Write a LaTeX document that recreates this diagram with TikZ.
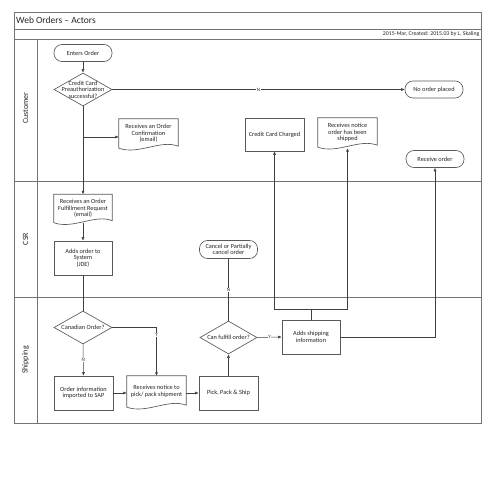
\documentclass[tikz,border=0pt]{standalone}
\usepackage{fontspec}
\setmainfont{Carlito}
\usetikzlibrary{shapes.geometric,arrows.meta,calc}
\newcommand\mydocshape[1]{%
  \draw[shp] (#1.south west) -- (#1.north west) -- (#1.north east) -- ([yshift=2pt]#1.south east)
    .. controls ([xshift=12pt,yshift=9pt]#1.south) and ([xshift=-10pt,yshift=-7pt]#1.south) .. (#1.south west) -- cycle;}
\begin{document}
\begin{tikzpicture}[x=1pt,y=-1pt,
  every node/.style={font=\fontsize{6.3}{6.4}\selectfont, text=black!85, align=center, inner sep=0pt},
  shp/.style={draw=black!65, line width=0.65pt},
  term/.style={shp, rounded corners=8pt, minimum width=58pt, minimum height=17pt},
  proc/.style={shp, minimum width=58pt, minimum height=34pt},
  dec/.style={shp, diamond, minimum width=58pt, minimum height=33pt},
  docn/.style={minimum width=59pt, minimum height=29pt},
  flow/.style={draw=black!75, line width=0.5pt},
  arr/.style={flow, -{Latex[length=3.5pt,width=3pt]}},
  lbl/.style={fill=white, font=\fontsize{5}{5}\selectfont, inner sep=0.6pt},
  frame/.style={draw=black!55, line width=0.9pt},
  lane/.style={rotate=90, font=\fontsize{8}{8}\selectfont}
]
\fill[white] (0,0) rectangle (495,495);
\useasboundingbox (0,0) rectangle (495,495);
% frame
\draw[frame] (14,12) rectangle (481,423);
\draw[frame] (14,29) -- (481,29);
\draw[frame] (14,39) -- (481,39);
\draw[frame] (37,39) -- (37,423);
\draw[frame] (14,181) -- (481,181);
\draw[frame] (14,297) -- (481,297);
\node[anchor=west, font=\fontsize{9.5}{9.5}\selectfont] (title) at (16,20.5) {Web Orders – Actors};
\node[anchor=east, font=\fontsize{5.8}{5.8}\selectfont] (sub) at (479.5,34) {2015-Mar, Created: 2015.03 by L. Skaling};
\node[lane] (lcust) at (25.5,108) {Customer};
\node[lane] (lcsr) at (25.5,239) {CSR};
\node[lane] (lship) at (25.5,360) {Shipping};
% customer lane
\node[term] (enter) at (83,53) {Enters Order};
\node[dec, label={center:{Credit Card\\Preauthorization\\successful?}}] (cc) at (83,89.5) {};
\node[term] (noorder) at (434,89.5) {No order placed};
\node[docn] (conf) at (148.5,133.5) {Receives an Order\\Confirmation\\(email)};
\mydocshape{conf}
\node[proc, minimum width=59pt, minimum height=33pt] (charged) at (274.5,134.5) {Credit Card Charged};
\node[docn] (shipped) at (347.5,132.5) {Receives notice\\order has been\\shipped};
\mydocshape{shipped}
\node[term] (recv) at (435,159) {Receive order};
% CSR lane
\node[docn, minimum width=58pt, minimum height=28pt] (fulfill) at (83,208.5) {Receives an Order\\Fulfillment Request\\(email)};
\mydocshape{fulfill}
\node[proc] (jde) at (83,258) {Adds order to\\System\\(JDE)};
\node[term, minimum height=18pt] (cancel) at (228.5,249.5) {Cancel or Partially\\cancel order};
% shipping lane
\node[dec, label={center:Canadian Order?}] (canadian) at (83,327.5) {};
\node[proc, minimum width=59pt] (sap) at (83.5,393) {Order information\\imported to SAP};
\node[docn, minimum height=31pt] (pick) at (156.5,391.5) {Receives notice to\\pick/ pack shipment};
\mydocshape{pick}
\node[proc, minimum width=59pt] (pps) at (228.5,393) {Pick, Pack \& Ship};
\node[dec, minimum width=57pt, label={center:Can fulfill order?}] (canq) at (228.5,337.5) {};
\node[proc] (addship) at (311,337) {Adds shipping\\information};
\coordinate (ccb) at (83,137);
\coordinate (join) at (311,309);
% connectors
\draw[arr] (enter) -- (cc);
\draw[arr] (cc.east) -- node[lbl] {N} (noorder.west);
\draw[arr] (cc.south) -- (fulfill.north);
\draw[arr] (ccb) -- (ccb -| conf.west);
\draw[arr] (fulfill.south) -- (jde.north);
\draw[flow] (jde.south) -- (canadian.north);
\draw[arr] (canadian.south) -- node[lbl] {N} (sap.north);
\draw[arr] (canadian.east) -| node[lbl, pos=0.58] {Y} (pick.north);
\draw[arr] (sap.east) -- (sap.east -| pick.west);
\draw[arr] (pick.east |- pps.west) -- (pps.west);
\draw[arr] (pps.north) -- (canq.south);
\draw[arr] (canq.east) -- node[lbl] {Y} (addship.west);
\draw[flow] (canq.north) -- node[lbl] {N} (cancel.south);
\draw[flow] (addship.north) -- (join);
\draw[arr] (join) -| (charged.south);
\draw[arr] (join) -| ([yshift=-1pt]shipped.south);
\draw[arr] (addship.east) -| (recv.south);
\end{tikzpicture}
\end{document}
